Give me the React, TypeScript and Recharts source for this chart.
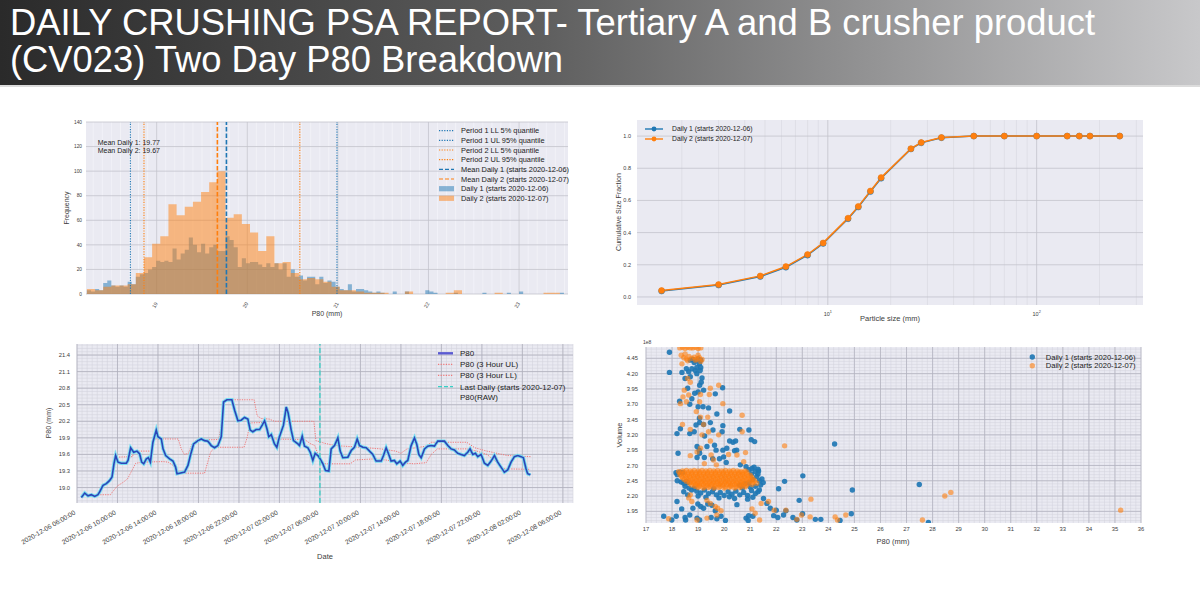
import React from 'react'
import {
  ComposedChart,
  Area,
  Line,
  Scatter,
  XAxis,
  YAxis,
  CartesianGrid,
  ReferenceLine
} from 'recharts'

const FONT = '"Liberation Sans", Arial, sans-serif'
const BG = '#eaeaf2'
const TICK = '#3c3c3c'
const BLUE = '#1f77b4'
const ORANGE = '#ff7f0e'

// ---------- histogram ----------
const histStart = 18.23
const histBinWidth = 0.045 // daily 1 bins; daily 2 bins are twice as wide
const daily1Counts = [
  3, 2, 4, 3, 9, 11, 7, 6, 7, 6,
  10, 8, 14, 16, 17, 20, 22, 27, 26, 27,
  26, 37, 28, 33, 36, 46, 40, 34, 41, 33,
  38, 40, 35, 35, 47, 44, 38, 22, 29, 25,
  26, 26, 24, 22, 25, 22, 25, 20, 25, 14,
  20, 14, 15, 11, 14, 14, 8, 14, 9, 11,
  10, 6, 4, 3, 8, 2, 4, 4, 3, 2,
  1, 2, 1, 0, 0, 2, 0, 0, 2, 0,
  0, 0, 0, 3, 2, 1, 0, 0, 0, 0,
  1, 0, 0, 0, 0, 0, 0, 1, 0, 0,
  0, 0, 0, 1, 0, 0, 2, 0, 0, 0,
  0, 0, 0, 0, 0, 0, 1, 0
]
const daily2Counts = [
  4, 3, 6, 7, 7, 8, 17, 30, 41, 47,
  73, 64, 71, 75, 83, 91, 100, 62, 65, 57,
  50, 35, 47, 25, 26, 17, 12, 13, 12, 10,
  6, 3, 3, 2, 1, 1, 1, 0, 0, 2,
  0, 0, 0, 0, 1, 3, 0, 0, 0, 0,
  1, 0, 0, 0, 0, 0, 1, 1, 0
]
const histXTicks = [19, 20, 21, 22, 23]
const histYTicks = [0, 20, 40, 60, 80, 100, 120, 140]
const period1LL = 18.71
const period1UL = 20.99
const period2LL = 18.86
const period2UL = 20.58
const meanDaily1 = 19.77
const meanDaily2 = 19.67

// ---------- cumulative size curve ----------
const sieveSizes = [1.6, 3.0, 4.75, 6.3, 8, 9.5, 12.5, 14, 16, 18, 25, 28, 35, 50, 70, 100, 140, 160, 180, 250]
const cumDaily1 = [0.037, 0.074, 0.127, 0.185, 0.26, 0.333, 0.486, 0.559, 0.655, 0.738, 0.92, 0.958, 0.99, 1, 1, 1, 1, 1, 1, 1]
const cumDaily2 = [0.04, 0.077, 0.131, 0.189, 0.264, 0.336, 0.49, 0.563, 0.659, 0.742, 0.922, 0.96, 0.991, 1, 1, 1, 1, 1, 1, 1]
const cdfYTicks = [0, 0.2, 0.4, 0.6, 0.8, 1.0]

// ---------- P80 time series (hours after 2020-12-06 06:00) ----------
const tsTicks = [0, 4, 8, 12, 16, 20, 24, 28, 32, 36, 40, 44, 48]
const tsTickLabels = [
  '2020-12-06 06:00:00', '2020-12-06 10:00:00', '2020-12-06 14:00:00', '2020-12-06 18:00:00',
  '2020-12-06 22:00:00', '2020-12-07 02:00:00', '2020-12-07 06:00:00', '2020-12-07 10:00:00',
  '2020-12-07 14:00:00', '2020-12-07 18:00:00', '2020-12-07 22:00:00', '2020-12-08 02:00:00',
  '2020-12-08 06:00:00'
]
const tsYTicks = [19.0, 19.3, 19.6, 19.9, 20.2, 20.5, 20.8, 21.1, 21.4]
const lastDailyStart = 24
const p80Trace: [number, number][] = [
  [0.43, 18.82], [0.76, 18.9], [1.09, 18.85], [1.42, 18.87], [1.75, 18.84], [2.07, 18.87], [2.24, 18.92],
  [2.57, 19.04], [2.9, 19.07], [3.23, 19.13], [3.46, 19.19], [3.65, 19.43], [3.82, 19.58], [4.05, 19.46],
  [4.38, 19.44], [4.87, 19.44], [5.04, 19.49], [5.3, 19.72], [5.6, 19.64], [5.93, 19.66], [6.19, 19.61],
  [6.39, 19.46], [6.59, 19.43], [6.85, 19.52], [7.05, 19.54], [7.25, 19.46], [7.5, 19.82], [7.83, 20.04],
  [8.0, 19.92], [8.33, 19.88], [8.5, 19.7], [8.76, 19.58], [9.15, 19.52], [9.48, 19.48], [9.74, 19.37],
  [9.88, 19.25], [10.14, 19.26], [10.63, 19.28], [10.96, 19.4], [11.2, 19.58], [11.52, 19.79], [11.95, 19.85],
  [12.28, 19.88], [12.6, 19.85], [12.93, 19.84], [13.26, 19.76], [13.59, 19.72], [13.92, 19.76], [14.25, 19.92],
  [14.48, 20.55], [14.81, 20.59], [15.3, 20.59], [15.57, 20.4], [15.9, 20.21], [16.22, 20.22], [16.55, 20.27],
  [16.88, 20.24], [17.11, 20.04], [17.37, 20.01], [17.7, 20.05], [18.03, 20.05], [18.3, 20.13], [18.53, 20.21],
  [18.76, 20.07], [18.95, 19.92], [19.19, 19.96], [19.51, 19.79], [19.74, 19.73], [20.0, 19.92], [20.4, 20.13],
  [20.67, 20.46], [20.86, 20.35], [21.16, 20.04], [21.39, 19.85], [21.82, 19.79], [21.98, 19.76], [22.25, 19.93],
  [22.48, 19.75], [22.81, 19.72], [23.04, 19.64], [23.3, 19.49], [23.53, 19.62], [23.8, 19.58], [24.02, 19.52],
  [24.29, 19.43], [24.55, 19.31], [24.88, 19.3], [25.11, 19.7], [25.44, 19.76], [25.77, 19.9], [26.0, 19.66],
  [26.26, 19.54], [26.76, 19.55], [27.09, 19.67], [27.41, 19.73], [27.68, 19.88], [27.91, 19.76], [28.24, 19.73],
  [28.57, 19.72], [28.9, 19.66], [29.22, 19.6], [29.55, 19.48], [30.05, 19.48], [30.28, 19.58], [30.54, 19.72],
  [30.8, 19.6], [31.03, 19.48], [31.36, 19.49], [31.59, 19.43], [31.92, 19.48], [32.18, 19.4], [32.45, 19.46],
  [32.68, 19.49], [33.01, 19.76], [33.34, 19.9], [33.57, 19.78], [33.77, 19.6], [34.0, 19.54], [34.33, 19.7],
  [34.65, 19.75], [34.98, 19.76], [35.31, 19.75], [35.64, 19.84], [35.97, 19.84], [36.3, 19.84], [36.63, 19.76],
  [36.96, 19.7], [37.28, 19.68], [37.61, 19.62], [37.94, 19.6], [38.27, 19.58], [38.6, 19.64], [38.83, 19.7],
  [39.1, 19.6], [39.36, 19.62], [39.59, 19.56], [39.92, 19.6], [40.25, 19.44], [40.58, 19.4], [40.91, 19.48],
  [41.24, 19.58], [41.56, 19.46], [41.89, 19.37], [42.22, 19.28], [42.55, 19.32], [42.88, 19.46], [43.21, 19.56],
  [43.54, 19.58], [43.87, 19.56], [44.1, 19.54], [44.36, 19.34], [44.52, 19.25], [44.79, 19.23]
]
const upperLimit3h: [number, number][] = [
  [3.4, 19.13], [3.6, 19.35], [3.9, 19.55], [5.5, 19.56], [5.6, 19.66], [7.3, 19.66], [7.6, 19.88],
  [10.0, 19.88], [10.3, 19.7], [10.6, 19.6], [11.0, 19.62], [11.4, 19.8], [11.8, 19.86], [14.0, 19.87],
  [14.3, 20.2], [14.6, 20.59], [17.5, 20.59], [17.8, 20.3], [18.2, 20.25], [19.0, 20.24], [19.5, 20.2],
  [23.4, 20.2], [23.6, 19.85], [24.5, 19.8], [25.5, 19.76], [28.0, 19.73], [30.0, 19.7], [31.5, 19.66],
  [32.0, 19.62], [32.6, 19.7], [33.5, 19.72], [34.5, 19.75], [35.0, 19.82], [38.5, 19.82], [39.3, 19.72],
  [40.5, 19.66], [41.5, 19.62], [42.5, 19.58], [44.8, 19.56]
]
const lowerLimit3h: [number, number][] = [
  [2.3, 18.87], [3.3, 18.87], [3.5, 18.92], [4.0, 19.03], [4.6, 19.1], [5.0, 19.16], [5.4, 19.3],
  [5.8, 19.44], [6.5, 19.46], [8.5, 19.47], [9.0, 19.46], [9.5, 19.4], [10.0, 19.28], [10.3, 19.26],
  [12.6, 19.26], [12.9, 19.45], [13.2, 19.64], [13.6, 19.73], [16.5, 19.73], [16.8, 19.9], [17.1, 20.17],
  [18.6, 20.18], [18.9, 19.95], [19.2, 19.88], [22.5, 19.87], [23.0, 19.8], [23.5, 19.76], [24.0, 19.5],
  [24.5, 19.43], [27.0, 19.43], [27.5, 19.5], [29.5, 19.52], [30.5, 19.5], [32.0, 19.45], [33.3, 19.43],
  [34.5, 19.45], [35.0, 19.6], [35.6, 19.7], [38.5, 19.7], [39.5, 19.66], [40.5, 19.6], [41.5, 19.45],
  [42.0, 19.34], [44.8, 19.33]
]

// ---------- volume vs P80 (volume in units of 1e8) ----------
const scatterXTicks = [17, 18, 19, 20, 21, 22, 23, 24, 25, 26, 27, 28, 29, 30, 31, 32, 33, 34, 35, 36]
const scatterYTicks = [1.95, 2.2, 2.45, 2.7, 2.95, 3.2, 3.45, 3.7, 3.95, 4.2, 4.45]
const daily1Points: [number, number][] = [
  [17.9, 4.55], [17.9, 4.22], [18.38, 4.22], [18.55, 4.28], [18.64, 4.23], [18.7, 4.15], [18.76, 4.28],
  [18.89, 4.25], [18.95, 4.2], [19.08, 4.25], [19.15, 4.13], [19.12, 4.06], [19.06, 4.01], [18.5, 4.12],
  [18.6, 3.96], [18.87, 3.88], [19.0, 3.9], [19.21, 3.93], [19.66, 3.87], [19.94, 3.97], [18.29, 3.75],
  [18.76, 3.79], [18.68, 3.7], [19.0, 3.66], [19.19, 3.66], [19.4, 3.64], [19.72, 3.54], [20.21, 3.59],
  [19.05, 3.47], [19.06, 3.4], [18.92, 3.36], [19.21, 3.37], [19.47, 3.4], [19.95, 3.35], [18.32, 3.3],
  [18.19, 3.22], [18.68, 3.22], [18.85, 3.25], [19.25, 3.18], [19.57, 3.28], [19.92, 3.25], [20.6, 3.29],
  [20.95, 3.28], [21.04, 3.12], [21.17, 3.09], [20.21, 3.1], [20.34, 3.08], [20.44, 3.1], [18.96, 3.01],
  [19.04, 2.95], [19.34, 3.01], [19.63, 3.03], [19.69, 2.95], [19.95, 2.95], [20.1, 2.98], [20.4, 2.94],
  [20.48, 2.95], [18.23, 2.9], [18.96, 2.83], [19.06, 2.9], [19.24, 2.83], [19.56, 2.81], [19.82, 2.81],
  [19.98, 2.84], [20.08, 2.75], [20.84, 2.68], [21.32, 2.61], [21.07, 2.65], [20.62, 2.71],
  [18.7, 4.42], [18.8, 4.43], [18.9, 4.41], [19.0, 4.44], [19.1, 4.42], [18.85, 4.38], [19.05, 4.36],
  [18.95, 4.3], [19.1, 4.3],
  [18.95, 2.28], [19.1, 2.25], [19.25, 2.3], [19.4, 2.24], [19.55, 2.27], [19.7, 2.22], [19.85, 2.26],
  [20.0, 2.21], [20.15, 2.27], [20.3, 2.23], [20.45, 2.28], [20.6, 2.22], [20.75, 2.26], [20.9, 2.21],
  [21.05, 2.29], [21.2, 2.24], [21.35, 2.3], [19.3, 2.18], [19.8, 2.17], [20.4, 2.16], [20.9, 2.15],
  [21.1, 2.18], [20.2, 2.19], [19.0, 2.2], [18.85, 2.33], [19.6, 2.32], [20.7, 2.33], [21.2, 2.36],
  [20.6, 2.38], [20.8, 2.4], [21.0, 2.35], [21.4, 2.38], [21.5, 2.42],
  [20.95, 2.42], [21.1, 2.47], [21.25, 2.52], [21.05, 2.56], [21.2, 2.6], [21.35, 2.45], [21.45, 2.48],
  [20.95, 2.63], [21.3, 2.64], [21.15, 2.67], [21.3, 2.56],
  [18.15, 2.58], [18.2, 2.55], [18.3, 2.59], [18.4, 2.58], [18.2, 2.45], [18.35, 2.43], [18.45, 2.41],
  [18.55, 2.44], [18.6, 2.42], [18.5, 2.36], [18.65, 2.33], [18.45, 2.27], [18.6, 2.22], [18.75, 2.3],
  [18.19, 2.11], [18.37, 1.99], [18.8, 2.0], [18.99, 2.07], [19.1, 2.03], [19.21, 2.0], [19.37, 2.07],
  [19.53, 2.05], [19.5, 1.85], [19.72, 1.83], [19.66, 1.96], [19.88, 1.87], [20.05, 1.8], [18.68, 1.89],
  [18.5, 1.85], [18.52, 1.81], [18.96, 1.84], [19.06, 1.81], [20.49, 2.06], [20.84, 1.84], [20.94, 1.88],
  [20.92, 1.8], [21.1, 1.87], [17.68, 1.87], [17.99, 1.81], [18.16, 1.87],
  [21.3, 2.27], [21.51, 2.16], [21.64, 2.08], [21.77, 2.0], [22.0, 1.97], [21.9, 1.88], [22.06, 1.85],
  [22.28, 1.89], [22.37, 1.96], [22.09, 2.32], [22.32, 2.44], [22.64, 1.85], [22.79, 1.81], [22.88, 2.13],
  [23.02, 2.53], [23.01, 1.91], [23.5, 1.82], [23.71, 1.82], [24.24, 3.05], [24.45, 1.8], [24.88, 1.91],
  [24.92, 2.3], [27.49, 2.39], [27.84, 1.77]
]
const daily2Points: [number, number][] = [
  [18.3, 4.62], [18.4, 4.63], [18.5, 4.61], [18.6, 4.63], [18.7, 4.62], [18.8, 4.62], [18.9, 4.63],
  [19.0, 4.61], [19.1, 4.62], [18.35, 4.5], [18.45, 4.46], [18.55, 4.44], [18.65, 4.48], [18.75, 4.45],
  [18.85, 4.47], [18.95, 4.44], [19.05, 4.46], [19.15, 4.43], [18.6, 4.41], [18.9, 4.42], [19.1, 4.4],
  [18.5, 4.52], [19.0, 4.5],
  [18.38, 4.36], [18.6, 4.12], [18.7, 4.06], [18.47, 3.93], [18.42, 3.82], [18.64, 3.85], [18.55, 3.74],
  [18.32, 3.71], [19.06, 3.74], [19.09, 3.86], [19.43, 3.86], [19.47, 3.96], [19.79, 4.01], [19.95, 3.71],
  [18.93, 3.58], [19.09, 3.49], [19.37, 3.49], [20.69, 3.52], [18.4, 3.37], [18.7, 3.29], [19.21, 3.37],
  [19.15, 3.2], [19.4, 3.25], [19.47, 3.1], [19.79, 3.2], [20.69, 3.25], [22.32, 3.02], [19.09, 2.98],
  [18.96, 2.92], [19.5, 2.87], [19.59, 2.79], [20.17, 2.88], [20.49, 2.87], [20.82, 2.91], [18.7, 2.86],
  [19.24, 2.73], [19.7, 2.71], [20.75, 2.76],
  [18.25, 2.6], [18.4, 2.61], [18.55, 2.62], [18.7, 2.61], [18.85, 2.62], [19.0, 2.61], [19.15, 2.62],
  [19.3, 2.61], [19.45, 2.62], [19.6, 2.61], [19.75, 2.62], [19.9, 2.61], [20.05, 2.62], [20.2, 2.61],
  [20.35, 2.62], [20.5, 2.61], [20.65, 2.6], [20.8, 2.61],
  [18.32, 2.58], [18.47, 2.59], [18.62, 2.58], [18.77, 2.59], [18.92, 2.58], [19.07, 2.59], [19.22, 2.58],
  [19.37, 2.59], [19.52, 2.58], [19.67, 2.59], [19.82, 2.58], [19.97, 2.59], [20.12, 2.58], [20.27, 2.59],
  [20.42, 2.58], [20.57, 2.59], [20.72, 2.58], [20.87, 2.59],
  [18.3, 2.55], [18.45, 2.56], [18.6, 2.55], [18.75, 2.56], [18.9, 2.55], [19.05, 2.56], [19.2, 2.55],
  [19.35, 2.56], [19.5, 2.55], [19.65, 2.56], [19.8, 2.55], [19.95, 2.56], [20.1, 2.55], [20.25, 2.56],
  [20.4, 2.55], [20.55, 2.56], [20.7, 2.55], [20.85, 2.56], [21.0, 2.54],
  [18.37, 2.52], [18.52, 2.53], [18.67, 2.52], [18.82, 2.53], [18.97, 2.52], [19.12, 2.53], [19.27, 2.52],
  [19.42, 2.53], [19.57, 2.52], [19.72, 2.53], [19.87, 2.52], [20.02, 2.53], [20.17, 2.52], [20.32, 2.53],
  [20.47, 2.52], [20.62, 2.53], [20.77, 2.52], [20.92, 2.53], [21.05, 2.51],
  [18.4, 2.5], [18.55, 2.49], [18.7, 2.5], [18.85, 2.49], [19.0, 2.5], [19.15, 2.49], [19.3, 2.5],
  [19.45, 2.49], [19.6, 2.5], [19.75, 2.49], [19.9, 2.5], [20.05, 2.49], [20.2, 2.5], [20.35, 2.49],
  [20.5, 2.5], [20.65, 2.49], [20.8, 2.5], [20.95, 2.49], [21.1, 2.48],
  [18.47, 2.47], [18.62, 2.46], [18.77, 2.47], [18.92, 2.46], [19.07, 2.47], [19.22, 2.46], [19.37, 2.47],
  [19.52, 2.46], [19.67, 2.47], [19.82, 2.46], [19.97, 2.47], [20.12, 2.46], [20.27, 2.47], [20.42, 2.46],
  [20.57, 2.47], [20.72, 2.46], [20.87, 2.47], [21.02, 2.46], [21.17, 2.45],
  [18.55, 2.44], [18.7, 2.43], [18.85, 2.44], [19.0, 2.43], [19.15, 2.44], [19.3, 2.43], [19.45, 2.44],
  [19.6, 2.43], [19.75, 2.44], [19.9, 2.43], [20.05, 2.44], [20.2, 2.43], [20.35, 2.44], [20.5, 2.43],
  [20.65, 2.44], [20.8, 2.43], [20.95, 2.44], [21.1, 2.42], [21.25, 2.41],
  [18.67, 2.41], [18.82, 2.41], [18.97, 2.4], [19.12, 2.41], [19.27, 2.41], [19.42, 2.4], [19.57, 2.41],
  [19.72, 2.41], [19.87, 2.4], [20.02, 2.41], [20.17, 2.41], [20.32, 2.4], [20.47, 2.41], [20.62, 2.41],
  [20.77, 2.4], [20.92, 2.4], [21.07, 2.39],
  [18.75, 2.38], [18.9, 2.39], [19.05, 2.38], [19.2, 2.39], [19.35, 2.38], [19.5, 2.39], [19.65, 2.38],
  [19.8, 2.39], [19.95, 2.38], [20.1, 2.39], [20.25, 2.38], [20.4, 2.39], [20.55, 2.38], [20.7, 2.39],
  [20.85, 2.37],
  [18.88, 2.36], [19.05, 2.36], [19.25, 2.35], [19.45, 2.36], [19.65, 2.35], [19.85, 2.36], [20.05, 2.35],
  [20.25, 2.36], [20.45, 2.35], [20.65, 2.36], [20.8, 2.35],
  [19.0, 2.34], [19.2, 2.33], [19.4, 2.34], [19.6, 2.33], [19.8, 2.34], [20.0, 2.33], [20.2, 2.34],
  [20.4, 2.33], [20.6, 2.34],
  [18.7, 2.22], [18.64, 2.17], [18.76, 2.11], [19.34, 2.13], [19.47, 2.08], [19.66, 2.03], [19.75, 2.0],
  [17.87, 1.83], [18.96, 1.81], [19.34, 1.84], [19.72, 1.89], [19.88, 1.96], [21.07, 1.99], [21.19, 1.92],
  [21.36, 1.81], [21.42, 2.08], [21.7, 2.11], [21.92, 1.97], [22.37, 1.97], [22.79, 1.82], [22.97, 1.89],
  [23.3, 1.86], [23.33, 2.15], [24.26, 1.86], [24.35, 1.81], [24.67, 1.89], [27.61, 1.81], [28.47, 2.2],
  [28.7, 2.26], [35.22, 1.97]
]

// grid line positions (styling only)
const steps = (from: number, to: number, step: number) => {
  const out: number[] = []
  for (let v = from; v <= to + 1e-9; v += step) out.push(+v.toFixed(4))
  return out
}

type Plot = { left: number; top: number; width: number; height: number }

// place a chart so that its plot area lands on the given page rectangle
const frame = (p: Plot, padLeft = 60) => ({
  style: { position: 'absolute' as const, left: p.left - padLeft, top: p.top - 10 },
  width: padLeft + p.width + 10,
  height: 10 + p.height + 40 + 10,
  margin: { top: 10, right: 10, bottom: 10, left: padLeft - 40 }
})

const histPlot: Plot = { left: 86, top: 122, width: 482, height: 172 }
const cdfPlot: Plot = { left: 637, top: 120, width: 506, height: 185 }
const tsPlot: Plot = { left: 77, top: 344, width: 496, height: 159 }
const scatterPlot: Plot = { left: 646, top: 347, width: 495, height: 176 }

const tickStyle = (size: number) => ({ fontSize: size, fill: TICK, fontFamily: FONT })

const HistTick = (props: any) => {
  const { x, y, payload } = props
  return (
    <text
      x={x - 2}
      y={y + 9}
      textAnchor="middle"
      dominantBaseline="central"
      fontSize={5.2}
      fill={TICK}
      fontFamily={FONT}
      transform={`rotate(-60 ${x - 2} ${y + 9})`}
    >
      {payload.value}
    </text>
  )
}

const PowerTick = (props: any) => {
  const { x, y, payload } = props
  const exp = Math.round(Math.log10(payload.value))
  return (
    <text x={x} y={y + 9} textAnchor="middle" fontSize={5.5} fill={TICK} fontFamily={FONT}>
      10
      <tspan dy={-3} fontSize={3.8}>
        {exp}
      </tspan>
    </text>
  )
}

const TimeTick = (props: any) => {
  const { x, y, payload } = props
  const label = tsTickLabels[tsTicks.indexOf(payload.value)]
  return (
    <text
      x={x - 5.4}
      y={y + 7.3}
      textAnchor="end"
      fontSize={6.6}
      fill={TICK}
      fontFamily={FONT}
      transform={`rotate(-30 ${x} ${y})`}
    >
      {label}
    </text>
  )
}

// small round marker, positioned by the Scatter's own scales
const dotShape = (color: string, opacity: number) => (props: any) => (
  <circle cx={props.cx} cy={props.cy} r={2.7} fill={color} fillOpacity={opacity} />
)

function Histogram() {
  const f = frame(histPlot)
  const rows = daily1Counts.map((c, j) => ({
    x: +(histStart + j * histBinWidth).toFixed(4),
    d1: c,
    d2: daily2Counts[Math.floor(j / 2)]
  }))
  rows.push({ x: +(histStart + daily1Counts.length * histBinWidth).toFixed(4), d1: 0, d2: 0 })
  return (
    <div style={f.style}>
      <ComposedChart width={f.width} height={f.height} margin={f.margin} data={rows}>
        <CartesianGrid fill={BG} stroke="#f7f7fb" strokeWidth={0.6} horizontal={false} verticalValues={steps(18.3, 23.5, 0.1)} />
        <CartesianGrid stroke="#c3c3cc" strokeWidth={0.8} horizontalValues={histYTicks} verticalValues={histXTicks} />
        <XAxis
          dataKey="x"
          type="number"
          domain={[18.22, 23.54]}
          allowDataOverflow
          ticks={histXTicks}
          interval={0}
          tick={<HistTick />}
          tickLine={false}
          axisLine={false}
          tickSize={0}
          height={40}
        />
        <YAxis
          type="number"
          domain={[0, 140]}
          ticks={histYTicks}
          interval={0}
          tick={tickStyle(4.8)}
          tickLine={false}
          axisLine={false}
          tickSize={0}
          tickMargin={4}
          width={40}
        />
        <Area dataKey="d1" type="stepAfter" stroke="none" fill={BLUE} fillOpacity={0.5} dot={false} activeDot={false} isAnimationActive={false} />
        <Area dataKey="d2" type="stepAfter" stroke="none" fill={ORANGE} fillOpacity={0.5} dot={false} activeDot={false} isAnimationActive={false} />
        <ReferenceLine x={period1LL} stroke={BLUE} strokeWidth={1.1} strokeDasharray="1.2 1.4" />
        <ReferenceLine x={period1UL} stroke={BLUE} strokeWidth={1.1} strokeDasharray="1.2 1.4" />
        <ReferenceLine x={period2LL} stroke={ORANGE} strokeWidth={1.1} strokeDasharray="1.2 1.4" />
        <ReferenceLine x={period2UL} stroke={ORANGE} strokeWidth={1.1} strokeDasharray="1.2 1.4" />
        <ReferenceLine x={meanDaily1} stroke={BLUE} strokeWidth={1.6} strokeDasharray="4.5 2" />
        <ReferenceLine x={meanDaily2} stroke={ORANGE} strokeWidth={1.6} strokeDasharray="4.5 2" />
      </ComposedChart>
    </div>
  )
}

function CumulativeCurve() {
  const f = frame(cdfPlot)
  const d1 = sieveSizes.map((s, i) => ({ size: s, frac: cumDaily1[i] }))
  const d2 = sieveSizes.map((s, i) => ({ size: s, frac: cumDaily2[i] }))
  const minor = [2, 3, 4, 5, 6, 7, 8, 9, 20, 30, 40, 50, 60, 70, 80, 90, 200, 300]
  return (
    <div style={f.style}>
      <ComposedChart width={f.width} height={f.height} margin={f.margin}>
        <CartesianGrid fill={BG} stroke="#d6d6df" strokeWidth={0.6} horizontal={false} verticalValues={minor} />
        <CartesianGrid stroke="#c3c3cc" strokeWidth={0.8} horizontalValues={cdfYTicks} verticalValues={[10, 100]} />
        <XAxis
          dataKey="size"
          type="number"
          scale="log"
          domain={[1.22, 323]}
          allowDataOverflow
          ticks={[10, 100]}
          interval={0}
          tick={<PowerTick />}
          tickLine={false}
          axisLine={false}
          tickSize={0}
          height={40}
        />
        <YAxis
          type="number"
          domain={[-0.05, 1.1]}
          allowDataOverflow
          ticks={cdfYTicks}
          interval={0}
          tickFormatter={(v: number) => v.toFixed(1)}
          tick={tickStyle(5.5)}
          tickLine={false}
          axisLine={false}
          tickSize={0}
          tickMargin={6}
          width={40}
        />
        <Line data={d1} dataKey="frac" stroke={BLUE} strokeWidth={1.5} dot={{ r: 3, fill: BLUE, stroke: BLUE, strokeWidth: 0.5 }} activeDot={false} isAnimationActive={false} />
        <Line data={d2} dataKey="frac" stroke={ORANGE} strokeWidth={1.5} dot={{ r: 3, fill: ORANGE, stroke: ORANGE, strokeWidth: 0.5 }} activeDot={false} isAnimationActive={false} />
      </ComposedChart>
    </div>
  )
}

function P80Series() {
  const f = frame(tsPlot, 77)
  const toRows = (pts: [number, number][]) => pts.map(([h, v]) => ({ h, v }))
  return (
    <div style={f.style}>
      <ComposedChart width={f.width} height={f.height} margin={f.margin}>
        <CartesianGrid fill={BG} stroke="#d3d3dd" strokeWidth={0.6} horizontalValues={steps(18.76, 21.58, 0.06)} verticalValues={steps(0, 49, 0.5)} />
        <CartesianGrid stroke="#b0b0bc" strokeWidth={0.8} horizontalValues={tsYTicks} verticalValues={tsTicks} />
        <XAxis
          dataKey="h"
          type="number"
          domain={[0, 49]}
          allowDataOverflow
          ticks={tsTicks}
          interval={0}
          tick={<TimeTick />}
          tickLine={false}
          axisLine={false}
          tickSize={0}
          height={40}
        />
        <YAxis
          type="number"
          domain={[18.72, 21.6]}
          allowDataOverflow
          ticks={tsYTicks}
          interval={0}
          tickFormatter={(v: number) => v.toFixed(1)}
          tick={tickStyle(5.8)}
          tickLine={false}
          axisLine={false}
          tickSize={0}
          tickMargin={7}
          width={40}
        />
        <Line data={toRows(upperLimit3h)} dataKey="v" stroke="#f07878" strokeWidth={1} strokeDasharray="1.2 1.2" dot={false} activeDot={false} isAnimationActive={false} />
        <Line data={toRows(lowerLimit3h)} dataKey="v" stroke="#f07878" strokeWidth={1} strokeDasharray="1.2 1.2" dot={false} activeDot={false} isAnimationActive={false} />
        <Line data={toRows(p80Trace)} dataKey="v" stroke="#74dcef" strokeWidth={3.4} dot={false} activeDot={false} isAnimationActive={false} />
        <Line data={toRows(p80Trace)} dataKey="v" stroke="#2c44b8" strokeWidth={1.6} dot={false} activeDot={false} isAnimationActive={false} />
        <ReferenceLine x={lastDailyStart} stroke="#38d0c6" strokeWidth={1.3} strokeDasharray="5 2.5" />
      </ComposedChart>
    </div>
  )
}

function VolumeScatter() {
  const f = frame(scatterPlot)
  const toRows = (pts: [number, number][]) => pts.map(([x, y]) => ({ x, y }))
  return (
    <div style={f.style}>
      <ComposedChart width={f.width} height={f.height} margin={f.margin}>
        <CartesianGrid fill={BG} stroke="#d3d3dd" strokeWidth={0.5} horizontalValues={steps(1.8, 4.6, 0.05)} verticalValues={steps(17, 36, 0.2)} />
        <CartesianGrid stroke="#b4b4c0" strokeWidth={0.8} horizontalValues={scatterYTicks} verticalValues={scatterXTicks} />
        <XAxis
          dataKey="x"
          type="number"
          domain={[17, 36]}
          allowDataOverflow
          ticks={scatterXTicks}
          interval={0}
          tick={tickStyle(5.8)}
          tickLine={false}
          axisLine={false}
          tickSize={0}
          tickMargin={4}
          height={40}
        />
        <YAxis
          dataKey="y"
          type="number"
          domain={[1.76, 4.635]}
          allowDataOverflow
          ticks={scatterYTicks}
          interval={0}
          tickFormatter={(v: number) => v.toFixed(2)}
          tick={tickStyle(5.8)}
          tickLine={false}
          axisLine={false}
          tickSize={0}
          tickMargin={8}
          width={40}
        />
        <Scatter data={toRows(daily1Points)} fill={BLUE} shape={dotShape(BLUE, 0.92)} isAnimationActive={false} />
        <Scatter data={toRows(daily2Points)} fill={ORANGE} shape={dotShape(ORANGE, 0.6)} isAnimationActive={false} />
      </ComposedChart>
    </div>
  )
}

const histLegend = [
  { label: 'Period 1 LL 5% quantile', kind: 'dot', color: BLUE },
  { label: 'Period 1 UL 95% quantile', kind: 'dot', color: BLUE },
  { label: 'Period 2 LL 5% quantile', kind: 'dot', color: ORANGE },
  { label: 'Period 2 UL 95% quantile', kind: 'dot', color: ORANGE },
  { label: 'Mean Daily 1 (starts 2020-12-06)', kind: 'dash', color: BLUE },
  { label: 'Mean Daily 2 (starts 2020-12-07)', kind: 'dash', color: ORANGE },
  { label: 'Daily 1 (starts 2020-12-06)', kind: 'patch', color: BLUE },
  { label: 'Daily 2 (starts 2020-12-07)', kind: 'patch', color: ORANGE }
]
const tsLegend = [
  { label: 'P80', kind: 'solid', color: '#5a5ad2' },
  { label: 'P80 (3 Hour UL)', kind: 'dot', color: '#f07878' },
  { label: 'P80 (3 Hour LL)', kind: 'dot', color: '#f07878' },
  { label: 'Last Daily (starts 2020-12-07)', kind: 'dash', color: '#38d0c6' },
  { label: 'P80(RAW)', kind: 'none', color: '#ffffff' }
]

const LegendSample = ({ kind, color, x1, x2, y }: { kind: string; color: string; x1: number; x2: number; y: number }) => {
  if (kind === 'patch') return <rect x={x1} y={y - 2.6} width={x2 - x1} height={5.2} fill={color} fillOpacity={0.5} />
  if (kind === 'none') return null
  const dash = kind === 'dot' ? '1.2 1.4' : kind === 'dash' ? '4 2' : undefined
  return <line x1={x1} x2={x2} y1={y} y2={y} stroke={color} strokeWidth={kind === 'solid' ? 2.4 : 1.2} strokeDasharray={dash} />
}

function Overlay() {
  const histRows = [130.7, 140.3, 150, 159.7, 169.3, 179, 188.7, 198.3]
  const tsRows = [353.3, 364.3, 375.3, 386.7, 397.3]
  return (
    <svg width={1200} height={604} style={{ position: 'absolute', left: 0, top: 0, pointerEvents: 'none' }} fontFamily={FONT}>
      <defs>
        <linearGradient id="titleFade" x1="0" x2="1" y1="0" y2="0">
          <stop offset="0%" stopColor="#2a2a2a" />
          <stop offset="45%" stopColor="#5e5e5e" />
          <stop offset="100%" stopColor="#c8c8ca" />
        </linearGradient>
      </defs>
      <rect x={0} y={0} width={1200} height={85} fill="url(#titleFade)" />
      <rect x={0} y={85} width={1200} height={2} fill="#dcdcdc" />
      <text x={10} y={35} fill="#ffffff" fontSize={37} fontFamily='"Liberation Sans Narrow", "Liberation Sans", Arial, sans-serif' textLength={1085} lengthAdjust="spacingAndGlyphs">
        DAILY CRUSHING PSA REPORT- Tertiary A and B crusher product
      </text>
      <text x={10} y={72} fill="#ffffff" fontSize={37} fontFamily='"Liberation Sans Narrow", "Liberation Sans", Arial, sans-serif' textLength={553} lengthAdjust="spacingAndGlyphs">
        (CV023) Two Day P80 Breakdown
      </text>

      {/* histogram texts */}
      <text transform="translate(66,208) rotate(-90)" textAnchor="middle" dominantBaseline="central" fontSize={7} fill={TICK}>Frequency</text>
      <text x={327} y={315.5} textAnchor="middle" fontSize={7} fill={TICK}>P80 (mm)</text>
      <text x={97.7} y={144.8} fontSize={7} fill="#222">Mean Daily 1: 19.77</text>
      <text x={97.7} y={152.5} fontSize={7} fill="#222">Mean Daily 2: 19.67</text>
      {histLegend.map((e, i) => (
        <g key={e.label}>
          <LegendSample kind={e.kind} color={e.color} x1={439} x2={454} y={histRows[i]} />
          <text x={461} y={histRows[i] + 2.6} fontSize={7.4} fill="#222">{e.label}</text>
        </g>
      ))}

      {/* cumulative curve texts */}
      <text transform="translate(618,212) rotate(-90)" textAnchor="middle" dominantBaseline="central" fontSize={7} fill={TICK}>Cumulative Size Fraction</text>
      <text x={890} y={320.5} textAnchor="middle" fontSize={7.5} fill={TICK}>Particle size (mm)</text>
      {[
        { label: 'Daily 1 (starts 2020-12-06)', color: BLUE, y: 129 },
        { label: 'Daily 2 (starts 2020-12-07)', color: ORANGE, y: 139 }
      ].map((e) => (
        <g key={e.label}>
          <line x1={645} x2={663} y1={e.y} y2={e.y} stroke={e.color} strokeWidth={1.4} />
          <circle cx={654} cy={e.y} r={2.4} fill={e.color} />
          <text x={672} y={e.y + 2.4} fontSize={6.8} fill="#222">{e.label}</text>
        </g>
      ))}

      {/* time series texts */}
      <text transform="translate(48,423) rotate(-90)" textAnchor="middle" dominantBaseline="central" fontSize={7} fill={TICK}>P80 (mm)</text>
      <text x={325} y={558.5} textAnchor="middle" fontSize={7.5} fill={TICK}>Date</text>
      {tsLegend.map((e, i) => (
        <g key={e.label}>
          <LegendSample kind={e.kind} color={e.color} x1={438} x2={453} y={tsRows[i]} />
          <text x={460} y={tsRows[i] + 2.8} fontSize={8} fill="#222">{e.label}</text>
        </g>
      ))}

      {/* scatter texts */}
      <text transform="translate(619,435) rotate(-90)" textAnchor="middle" dominantBaseline="central" fontSize={7.5} fill={TICK}>Volume</text>
      <text x={893} y={543.5} textAnchor="middle" fontSize={7.5} fill={TICK}>P80 (mm)</text>
      <text x={643} y={344} fontSize={5} fill={TICK}>1e8</text>
      {[
        { label: 'Daily 1 (starts 2020-12-06)', color: BLUE, op: 0.92, y: 357 },
        { label: 'Daily 2 (starts 2020-12-07)', color: ORANGE, op: 0.6, y: 365.7 }
      ].map((e) => (
        <g key={e.label}>
          <circle cx={1032.3} cy={e.y} r={2.7} fill={e.color} fillOpacity={e.op} />
          <text x={1045.7} y={e.y + 2.6} fontSize={7.6} fill="#222">{e.label}</text>
        </g>
      ))}
    </svg>
  )
}

export default function App() {
  return (
    <div style={{ position: 'absolute', left: 0, top: 0, width: 1200, height: 604, background: '#ffffff', overflow: 'hidden', fontFamily: FONT }}>
      <Histogram />
      <CumulativeCurve />
      <P80Series />
      <VolumeScatter />
      <Overlay />
    </div>
  )
}
